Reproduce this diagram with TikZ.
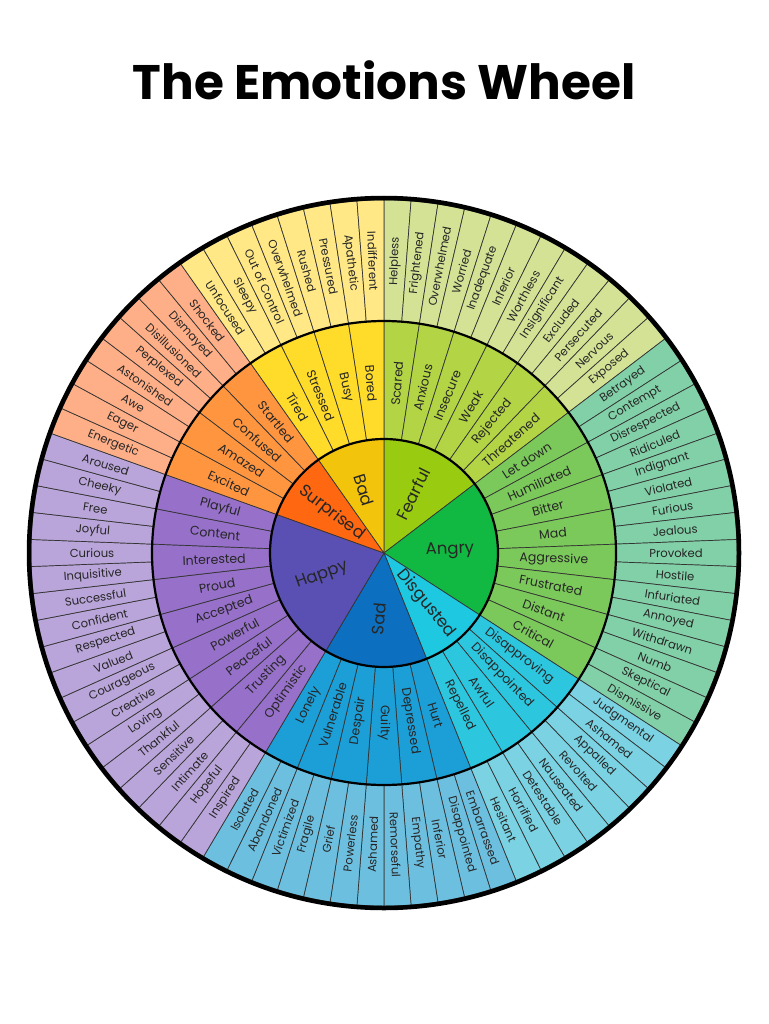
\documentclass[tikz,border=0pt]{standalone}
\usepackage{fontspec}
\setmainfont{Poppins}
\begin{document}
\begin{tikzpicture}[x=1pt,y=1pt,
  seg/.style={draw=black!80,line width=0.7pt},
  otxt/.style={font=\fontsize{11.6}{13}\selectfont,text=black!85,inner sep=0pt},
  mtxt/.style={font=\fontsize{12.5}{14}\selectfont,text=black!85,inner sep=0pt},
  itxt/.style={font=\fontsize{16.5}{18}\selectfont,text=black!85,inner sep=0pt}]
\useasboundingbox (0,0) rectangle (768,-1024);
\fill[white] (0,0) rectangle (768,-1024);
\node[font=\fontsize{48.5}{54}\selectfont\bfseries] (title) at (384,-80) {The Emotions Wheel};
\def\d{4.390243902}
\definecolor{fo}{HTML}{D3E295}\definecolor{fm}{HTML}{B3D444}\definecolor{fi}{HTML}{99CC11}
\definecolor{ao}{HTML}{82D0A8}\definecolor{am}{HTML}{7CC95B}\definecolor{ai}{HTML}{11B841}
\definecolor{do}{HTML}{7AD2E2}\definecolor{dm}{HTML}{2CC7DF}\definecolor{di}{HTML}{1DC8E0}
\definecolor{so}{HTML}{6DBFE0}\definecolor{sm}{HTML}{1C9ED6}\definecolor{si}{HTML}{0C6FBF}
\definecolor{ho}{HTML}{B9A5D9}\definecolor{hm}{HTML}{9670C9}\definecolor{hi}{HTML}{5A50B4}
\definecolor{uo}{HTML}{FFAF87}\definecolor{um}{HTML}{FF963F}\definecolor{ui}{HTML}{FF6711}
\definecolor{bo}{HTML}{FFE885}\definecolor{bm}{HTML}{FFDB2A}\definecolor{bi}{HTML}{F2C40C}
\newcommand\wring[8]{%
 \foreach \w [count=\k from 0] in {#8}{%
  \pgfmathsetmacro\aa{90-(#1+\k*#2)*\d}%
  \pgfmathsetmacro\ab{90-(#1+(\k+1)*#2)*\d}%
  \pgfmathsetmacro\am{(\aa+\ab)/2}%
  \pgfmathsetmacro\rt{cos(\am)>=0 ? \am : \am+180}%
  \fill[#3,seg] (\aa:#4) arc[start angle=\aa,end angle=\ab,radius=#4] -- (\ab:#5) arc[start angle=\ab,end angle=\aa,radius=#5] -- cycle;
  \node[#7,rotate=\rt] at (\am:#6) {\w};
 }}
\begin{scope}[shift={(384,-553)}]
\fill[white] (0,0) circle (355);
\wring{0}{1}{fo}{232}{353}{292}{otxt}{Helpless,Frightened,Overwhelmed,Worried,Inadequate,Inferior,Worthless,Insignificant,Excluded,Persecuted,Nervous,Exposed}
\wring{12}{1}{ao}{232}{353}{292}{otxt}{Betrayed,Contempt,Disrespected,Ridiculed,Indignant,Violated,Furious,Jealous,Provoked,Hostile,Infuriated,Annoyed,Withdrawn,Numb,Skeptical,Dismissive}
\wring{28}{1}{do}{232}{353}{292}{otxt}{Judgmental,Ashamed,Appalled,Revolted,Nauseated,Detestable,Horrified,Hesitant}
\wring{36}{1}{so}{232}{353}{292}{otxt}{Embarrassed,Disappointed,Inferior,Empathy,Remorseful,Ashamed,Powerless,Grief,Fragile,Victimized,Abandoned,Isolated}
\wring{48}{1}{ho}{232}{353}{292}{otxt}{Inspired,Hopeful,Intimate,Sensitive,Thankful,Loving,Creative,Courageous,Valued,Respected,Confident,Successful,Inquisitive,Curious,Joyful,Free,Cheeky,Aroused}
\wring{66}{1}{uo}{232}{353}{292}{otxt}{Energetic,Eager,Awe,Astonished,Perplexed,Disillusioned,Dismayed,Shocked}
\wring{74}{1}{bo}{232}{353}{292}{otxt}{Unfocused,Sleepy,Out of Control,Overwhelmed,Rushed,Pressured,Apathetic,Indifferent}
\wring{0}{2}{fm}{114}{232}{170}{mtxt}{Scared,Anxious,Insecure,Weak,Rejected,Threatened}
\wring{12}{2}{am}{114}{232}{170}{mtxt}{Let down,Humiliated,Bitter,Mad,Aggressive,Frustrated,Distant,Critical}
\wring{28}{2}{dm}{114}{232}{170}{mtxt}{Disapproving,Disappointed,Awful,Repelled}
\wring{36}{2}{sm}{114}{232}{170}{mtxt}{Hurt,Depressed,Guilty,Despair,Vulnerable,Lonely}
\wring{48}{2}{hm}{114}{232}{170}{mtxt}{Optimistic,Trusting,Peaceful,Powerful,Accepted,Proud,Interested,Content,Playful}
\wring{66}{2}{um}{114}{232}{170}{mtxt}{Excited,Amazed,Confused,Startled}
\wring{74}{2}{bm}{114}{232}{170}{mtxt}{Tired,Stressed,Busy,Bored}
\wring{0}{12}{fi}{0.01}{114}{66}{itxt}{Fearful}
\wring{12}{16}{ai}{0.01}{114}{66}{itxt}{Angry}
\wring{28}{8}{di}{0.01}{114}{66}{itxt}{Disgusted}
\wring{36}{12}{si}{0.01}{114}{66}{itxt}{Sad}
\wring{48}{18}{hi}{0.01}{114}{66}{itxt}{Happy}
\wring{66}{8}{ui}{0.01}{114}{66}{itxt}{Surprised}
\wring{74}{8}{bi}{0.01}{114}{66}{itxt}{Bad}
\draw[line width=2.2pt] (0,0) circle (114);
\draw[line width=2.2pt] (0,0) circle (232);
\draw[line width=4.5pt] (0,0) circle (355);
\end{scope}
\end{tikzpicture}
\end{document}
